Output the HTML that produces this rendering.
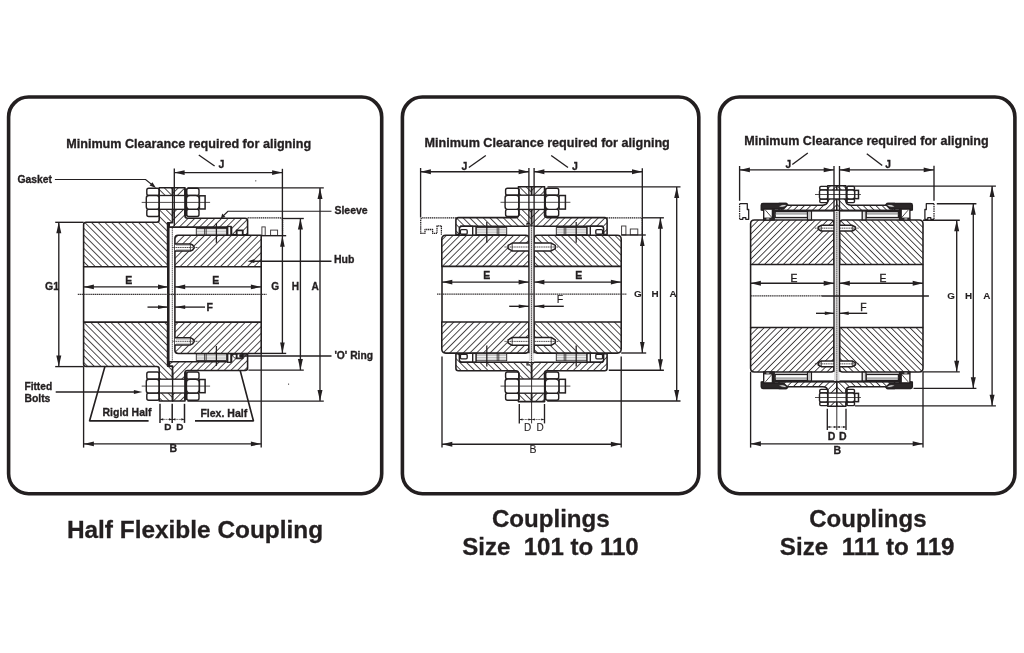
<!DOCTYPE html>
<html lang="en"><head><meta charset="utf-8"><title>Gear couplings - dimensions</title>
<style>html,body{margin:0;padding:0;background:#fff}body{width:1024px;height:653px;overflow:hidden}svg{display:block;will-change:transform}text{font-family:"Liberation Sans",Arial,Helvetica,sans-serif;fill:#231f20}</style>
</head><body>
<svg width="1024" height="653" viewBox="0 0 1024 653">
<rect x="0" y="0" width="1024" height="653" fill="#fff"/>
<defs>
<pattern id="hB" patternUnits="userSpaceOnUse" width="4.75" height="4.75" patternTransform="rotate(-45)"><line x1="2.38" y1="-1" x2="2.38" y2="5.75" stroke="#231f20" stroke-width="0.8"/></pattern>
<pattern id="hF" patternUnits="userSpaceOnUse" width="4.75" height="4.75" patternTransform="rotate(45)"><line x1="2.38" y1="-1" x2="2.38" y2="5.75" stroke="#231f20" stroke-width="0.8"/></pattern>
<pattern id="hB3" patternUnits="userSpaceOnUse" width="4.45" height="4.45" patternTransform="rotate(-45)"><line x1="2.23" y1="-1" x2="2.23" y2="5.45" stroke="#231f20" stroke-width="0.8"/></pattern>
<pattern id="hF3" patternUnits="userSpaceOnUse" width="4.45" height="4.45" patternTransform="rotate(45)"><line x1="2.23" y1="-1" x2="2.23" y2="5.45" stroke="#231f20" stroke-width="0.8"/></pattern>
<pattern id="hD" patternUnits="userSpaceOnUse" width="1.6" height="1.6" patternTransform="rotate(-45)"><line x1="0.8" y1="-1" x2="0.8" y2="2.6" stroke="#231f20" stroke-width="0.9"/></pattern>
</defs>
<rect x="8.6" y="97" width="373.1" height="396.7" rx="20" ry="20" fill="none" stroke="#231f20" stroke-width="3.6"/>
<rect x="402.4" y="97" width="296.4" height="396.7" rx="20" ry="20" fill="none" stroke="#231f20" stroke-width="3.6"/>
<rect x="719.4" y="97" width="295.5" height="396.7" rx="20" ry="20" fill="none" stroke="#231f20" stroke-width="3.6"/>
<text x="66.9" y="538.4" font-size="24.2" font-weight="bold" text-anchor="start" stroke="#231f20" stroke-width="0.3" textLength="256.2" lengthAdjust="spacingAndGlyphs">Half Flexible Coupling</text>
<text x="550.8" y="527.2" font-size="24.2" font-weight="bold" text-anchor="middle" stroke="#231f20" stroke-width="0.3" textLength="117.8" lengthAdjust="spacingAndGlyphs">Couplings</text>
<text x="550.5" y="555" font-size="24.2" font-weight="bold" text-anchor="middle" stroke="#231f20" stroke-width="0.3" textLength="176.5" lengthAdjust="spacingAndGlyphs">Size&#160; 101 to 110</text>
<text x="867.9" y="527.2" font-size="24.2" font-weight="bold" text-anchor="middle" stroke="#231f20" stroke-width="0.3" textLength="117.2" lengthAdjust="spacingAndGlyphs">Couplings</text>
<text x="867.2" y="555" font-size="24.2" font-weight="bold" text-anchor="middle" stroke="#231f20" stroke-width="0.3" textLength="174.7" lengthAdjust="spacingAndGlyphs">Size&#160; 111 to 119</text>
<text x="66.2" y="148.2" font-size="12.6" font-weight="bold" text-anchor="start" stroke="#231f20" stroke-width="0.32" textLength="245" lengthAdjust="spacingAndGlyphs">Minimum Clearance required for aligning</text>
<text x="424.5" y="147.4" font-size="12.6" font-weight="bold" text-anchor="start" stroke="#231f20" stroke-width="0.32" textLength="245.3" lengthAdjust="spacingAndGlyphs">Minimum Clearance required for aligning</text>
<text x="744.2" y="145" font-size="12.6" font-weight="bold" text-anchor="start" stroke="#231f20" stroke-width="0.32" textLength="244.5" lengthAdjust="spacingAndGlyphs">Minimum Clearance required for aligning</text>
<path d="M83.6 266.7 L83.6 224.8 Q83.6 222.3 86.1 222.3 L156.7 222.3 Q159.2 222.3 159.2 219.8 L159.2 187.8 L172.6 187.8 L172.6 222.7 L167.6 222.7 L167.6 266.7 Z" fill="#fff" stroke="none"/>
<path d="M83.6 266.7 L83.6 224.8 Q83.6 222.3 86.1 222.3 L156.7 222.3 Q159.2 222.3 159.2 219.8 L159.2 187.8 L172.6 187.8 L172.6 222.7 L167.6 222.7 L167.6 266.7 Z" fill="url(#hB)" stroke="#231f20" stroke-width="1.58" stroke-linejoin="round"/>
<path d="M172.6 187.8 L185 187.8 L185 215.8 Q185 218.3 187.5 218.3 L245.1 218.3 Q247.6 218.3 247.6 220.8 L247.6 234.8 L242.8 234.8 L242.8 230.3 L236.5 230.3 L236.5 234.8 L231.5 234.8 L231.5 227.1 L169.2 227.1 L169.2 222.7 L172.6 222.7 Z" fill="#fff" stroke="none"/>
<path d="M172.6 187.8 L185 187.8 L185 215.8 Q185 218.3 187.5 218.3 L245.1 218.3 Q247.6 218.3 247.6 220.8 L247.6 234.8 L242.8 234.8 L242.8 230.3 L236.5 230.3 L236.5 234.8 L231.5 234.8 L231.5 227.1 L169.2 227.1 L169.2 222.7 L172.6 222.7 Z" fill="url(#hF)" stroke="#231f20" stroke-width="1.58" stroke-linejoin="round"/>
<path d="M174.9 266.7 L174.9 238.5 Q174.9 235.3 178.1 235.3 L261.2 235.3 L261.2 266.7 Z" fill="#fff" stroke="none"/>
<path d="M174.9 266.7 L174.9 238.5 Q174.9 235.3 178.1 235.3 L261.2 235.3 L261.2 266.7 Z" fill="url(#hF)" stroke="#231f20" stroke-width="1.58" stroke-linejoin="round"/>
<path d="M83.6 322.1 L83.6 364 Q83.6 366.5 86.1 366.5 L156.7 366.5 Q159.2 366.5 159.2 369 L159.2 401 L172.6 401 L172.6 366.1 L167.6 366.1 L167.6 322.1 Z" fill="#fff" stroke="none"/>
<path d="M83.6 322.1 L83.6 364 Q83.6 366.5 86.1 366.5 L156.7 366.5 Q159.2 366.5 159.2 369 L159.2 401 L172.6 401 L172.6 366.1 L167.6 366.1 L167.6 322.1 Z" fill="url(#hB)" stroke="#231f20" stroke-width="1.58" stroke-linejoin="round"/>
<path d="M172.6 401 L185 401 L185 373 Q185 370.5 187.5 370.5 L245.1 370.5 Q247.6 370.5 247.6 368 L247.6 354 L242.8 354 L242.8 358.5 L236.5 358.5 L236.5 354 L231.5 354 L231.5 361.7 L169.2 361.7 L169.2 366.1 L172.6 366.1 Z" fill="#fff" stroke="none"/>
<path d="M172.6 401 L185 401 L185 373 Q185 370.5 187.5 370.5 L245.1 370.5 Q247.6 370.5 247.6 368 L247.6 354 L242.8 354 L242.8 358.5 L236.5 358.5 L236.5 354 L231.5 354 L231.5 361.7 L169.2 361.7 L169.2 366.1 L172.6 366.1 Z" fill="url(#hF)" stroke="#231f20" stroke-width="1.58" stroke-linejoin="round"/>
<path d="M174.9 322.1 L174.9 350.3 Q174.9 353.5 178.1 353.5 L261.2 353.5 L261.2 322.1 Z" fill="#fff" stroke="none"/>
<path d="M174.9 322.1 L174.9 350.3 Q174.9 353.5 178.1 353.5 L261.2 353.5 L261.2 322.1 Z" fill="url(#hF)" stroke="#231f20" stroke-width="1.58" stroke-linejoin="round"/>
<line x1="83.6" y1="266.7" x2="83.6" y2="322.1" stroke="#231f20" stroke-width="1.58"/>
<line x1="261.2" y1="266.7" x2="261.2" y2="322.1" stroke="#231f20" stroke-width="1.58"/>
<line x1="168.3" y1="222.7" x2="168.3" y2="366.1" stroke="#231f20" stroke-width="2.55"/>
<line x1="174.9" y1="266.7" x2="174.9" y2="322.1" stroke="#231f20" stroke-width="1.58"/>
<line x1="172.3" y1="226" x2="172.3" y2="363" stroke="#3a3637" stroke-width="0.8" stroke-dasharray="1.4 0.5"/>
<path d="M174.9 243.9 L190.4 243.9 L192.6 245 L194.4 247.5 L192.6 250 L190.4 251.1 L174.9 251.1" fill="#fff" stroke="#231f20" stroke-width="1.5" stroke-linejoin="round"/>
<line x1="190.4" y1="243.9" x2="190.4" y2="251.1" stroke="#231f20" stroke-width="0.8"/>
<line x1="176" y1="245.5" x2="190" y2="245.5" stroke="#666" stroke-width="0.4"/>
<line x1="176" y1="249.5" x2="190" y2="249.5" stroke="#666" stroke-width="0.4"/>
<line x1="172.4" y1="247.5" x2="198.4" y2="247.5" stroke="#3a3637" stroke-width="0.9" stroke-dasharray="1.3 0.5"/>
<rect x="196.3" y="228.4" width="30.3" height="6.4" rx="0" fill="#fff" stroke="#231f20" stroke-width="0.92"/>
<line x1="196.3" y1="230" x2="226.6" y2="230" stroke="#666" stroke-width="0.4"/>
<line x1="196.3" y1="231.6" x2="226.6" y2="231.6" stroke="#666" stroke-width="0.4"/>
<line x1="196.3" y1="233.2" x2="226.6" y2="233.2" stroke="#666" stroke-width="0.4"/>
<line x1="204.6" y1="228.4" x2="204.6" y2="234.8" stroke="#231f20" stroke-width="0.8"/>
<line x1="206.2" y1="228.4" x2="206.2" y2="234.8" stroke="#231f20" stroke-width="0.8"/>
<line x1="216.4" y1="223" x2="216.4" y2="242.8" stroke="#231f20" stroke-width="1.27"/>
<rect x="227.7" y="226.5" width="3.2" height="8.6" rx="0" fill="#fff" stroke="#231f20" stroke-width="1.35"/>
<rect x="236.9" y="230.6" width="5.6" height="4.3" rx="0.8" fill="#fff" stroke="#231f20" stroke-width="1.35"/>
<path d="M174.9 344.9 L190.4 344.9 L192.6 343.8 L194.4 341.3 L192.6 338.8 L190.4 337.7 L174.9 337.7" fill="#fff" stroke="#231f20" stroke-width="1.5" stroke-linejoin="round"/>
<line x1="190.4" y1="344.9" x2="190.4" y2="337.7" stroke="#231f20" stroke-width="0.8"/>
<line x1="176" y1="343.3" x2="190" y2="343.3" stroke="#666" stroke-width="0.4"/>
<line x1="176" y1="339.3" x2="190" y2="339.3" stroke="#666" stroke-width="0.4"/>
<line x1="172.4" y1="341.3" x2="198.4" y2="341.3" stroke="#3a3637" stroke-width="0.9" stroke-dasharray="1.3 0.5"/>
<rect x="196.3" y="354" width="30.3" height="6.4" rx="0" fill="#fff" stroke="#231f20" stroke-width="0.92"/>
<line x1="196.3" y1="358.8" x2="226.6" y2="358.8" stroke="#666" stroke-width="0.4"/>
<line x1="196.3" y1="357.2" x2="226.6" y2="357.2" stroke="#666" stroke-width="0.4"/>
<line x1="196.3" y1="355.6" x2="226.6" y2="355.6" stroke="#666" stroke-width="0.4"/>
<line x1="204.6" y1="360.4" x2="204.6" y2="354" stroke="#231f20" stroke-width="0.8"/>
<line x1="206.2" y1="360.4" x2="206.2" y2="354" stroke="#231f20" stroke-width="0.8"/>
<line x1="216.4" y1="365.8" x2="216.4" y2="346" stroke="#231f20" stroke-width="1.27"/>
<rect x="227.7" y="353.7" width="3.2" height="8.6" rx="0" fill="#fff" stroke="#231f20" stroke-width="1.35"/>
<rect x="236.9" y="353.9" width="5.6" height="4.3" rx="0.8" fill="#fff" stroke="#231f20" stroke-width="1.35"/>
<rect x="239.6" y="354.3" width="2.7" height="3.3" rx="1" fill="#231f20" stroke="#231f20" stroke-width="0.6"/>
<path d="M232.2 353.8 Q233.6 359.3 236.5 357.8" fill="none" stroke="#231f20" stroke-width="0.8"/>
<rect x="159.2" y="195.5" width="25.8" height="13.8" fill="#fff" stroke="none"/>
<line x1="159.2" y1="195.5" x2="185" y2="195.5" stroke="#231f20" stroke-width="1.35"/>
<line x1="159.2" y1="209.3" x2="185" y2="209.3" stroke="#231f20" stroke-width="1.35"/>
<rect x="147.3" y="188.8" width="11.9" height="27.2" fill="#fff"/>
<rect x="146.8" y="188.3" width="12.4" height="7.2" rx="1.9" fill="#fff" stroke="#231f20" stroke-width="1.42"/>
<rect x="146.8" y="209.3" width="12.4" height="7.2" rx="1.9" fill="#fff" stroke="#231f20" stroke-width="1.42"/>
<rect x="146.3" y="195.5" width="12.9" height="13.8" rx="2.6" fill="#fff" stroke="#231f20" stroke-width="1.42"/>
<line x1="159.2" y1="188.7" x2="159.2" y2="216.1" stroke="#231f20" stroke-width="1.5"/>
<rect x="187.3" y="188.8" width="11.1" height="27.2" fill="#fff"/>
<rect x="186.7" y="188.3" width="12.3" height="7.2" rx="1.9" fill="#fff" stroke="#231f20" stroke-width="1.42"/>
<rect x="186.7" y="209.3" width="12.3" height="7.2" rx="1.9" fill="#fff" stroke="#231f20" stroke-width="1.42"/>
<rect x="186.3" y="195.5" width="13.1" height="13.8" rx="3.8" fill="#fff" stroke="#231f20" stroke-width="1.42"/>
<rect x="199.4" y="195.8" width="5.7" height="13.2" rx="0" fill="#fff" stroke="#231f20" stroke-width="1.5"/>
<line x1="185.65" y1="188.6" x2="185.65" y2="216.2" stroke="#231f20" stroke-width="3"/>
<line x1="141.7" y1="202.4" x2="210.1" y2="202.4" stroke="#231f20" stroke-width="0.8"/>
<rect x="159.2" y="379.2" width="25.8" height="13.8" fill="#fff" stroke="none"/>
<line x1="159.2" y1="379.2" x2="185" y2="379.2" stroke="#231f20" stroke-width="1.35"/>
<line x1="159.2" y1="393" x2="185" y2="393" stroke="#231f20" stroke-width="1.35"/>
<rect x="147.3" y="372.5" width="11.9" height="27.2" fill="#fff"/>
<rect x="146.8" y="372" width="12.4" height="7.2" rx="1.9" fill="#fff" stroke="#231f20" stroke-width="1.42"/>
<rect x="146.8" y="393" width="12.4" height="7.2" rx="1.9" fill="#fff" stroke="#231f20" stroke-width="1.42"/>
<rect x="146.3" y="379.2" width="12.9" height="13.8" rx="2.6" fill="#fff" stroke="#231f20" stroke-width="1.42"/>
<line x1="159.2" y1="372.4" x2="159.2" y2="399.8" stroke="#231f20" stroke-width="1.5"/>
<rect x="187.3" y="372.5" width="11.1" height="27.2" fill="#fff"/>
<rect x="186.7" y="372" width="12.3" height="7.2" rx="1.9" fill="#fff" stroke="#231f20" stroke-width="1.42"/>
<rect x="186.7" y="393" width="12.3" height="7.2" rx="1.9" fill="#fff" stroke="#231f20" stroke-width="1.42"/>
<rect x="186.3" y="379.2" width="13.1" height="13.8" rx="3.8" fill="#fff" stroke="#231f20" stroke-width="1.42"/>
<rect x="199.4" y="379.5" width="5.7" height="13.2" rx="0" fill="#fff" stroke="#231f20" stroke-width="1.5"/>
<line x1="185.65" y1="372.3" x2="185.65" y2="399.9" stroke="#231f20" stroke-width="3"/>
<line x1="141.7" y1="386.1" x2="210.1" y2="386.1" stroke="#231f20" stroke-width="0.8"/>
<line x1="172.6" y1="188" x2="172.6" y2="216.8" stroke="#231f20" stroke-width="1.35"/>
<line x1="172.6" y1="371.7" x2="172.6" y2="400.5" stroke="#231f20" stroke-width="1.35"/>
<path d="M247.6 217.9 L280 217.9 Q282.6 217.9 282.6 220.5 L282.6 235.5" fill="none" stroke="#231f20" stroke-width="1.27" stroke-linejoin="round" stroke-dasharray="1.3 0.6"/>
<rect x="261.9" y="226.9" width="3.3" height="8.5" rx="0" fill="none" stroke="#3a3637" stroke-width="0.92"/>
<rect x="270.6" y="230.1" width="7" height="5.3" rx="0" fill="none" stroke="#3a3637" stroke-width="0.92"/>
<line x1="174.3" y1="168.6" x2="174.3" y2="226" stroke="#231f20" stroke-width="1.35"/>
<line x1="282.4" y1="168.8" x2="282.4" y2="353.4" stroke="#231f20" stroke-width="1.35"/>
<line x1="174.3" y1="172.6" x2="282.4" y2="172.6" stroke="#231f20" stroke-width="1.35"/>
<polygon points="174.3,172.6 184.6,170.15 184.6,175.05" fill="#231f20"/>
<polygon points="282.4,172.6 272.1,170.15 272.1,175.05" fill="#231f20"/>
<text x="221.3" y="167.6" font-size="10.5" font-weight="bold" text-anchor="middle" stroke="#231f20" stroke-width="0.32">J</text>
<line x1="198.8" y1="155" x2="214.6" y2="166" stroke="#231f20" stroke-width="1.35"/>
<line x1="187.5" y1="187.9" x2="323.8" y2="187.9" stroke="#231f20" stroke-width="1.35"/>
<line x1="187.5" y1="401.1" x2="323.8" y2="401.1" stroke="#231f20" stroke-width="1.35"/>
<line x1="282.6" y1="218.5" x2="303.8" y2="218.5" stroke="#231f20" stroke-width="1.35"/>
<line x1="248.4" y1="370.1" x2="303.8" y2="370.1" stroke="#231f20" stroke-width="1.35"/>
<line x1="261.2" y1="235.7" x2="286.2" y2="235.7" stroke="#231f20" stroke-width="1.35"/>
<line x1="261.2" y1="353.4" x2="286.2" y2="353.4" stroke="#231f20" stroke-width="1.35"/>
<line x1="320" y1="187.9" x2="320" y2="401" stroke="#231f20" stroke-width="1.35"/>
<polygon points="320,187.9 317.5,198.9 322.5,198.9" fill="#231f20"/>
<polygon points="320,401 317.5,390 322.5,390" fill="#231f20"/>
<line x1="300.4" y1="218.5" x2="300.4" y2="370.1" stroke="#231f20" stroke-width="1.35"/>
<polygon points="300.4,218.5 297.9,229.5 302.9,229.5" fill="#231f20"/>
<polygon points="300.4,370.1 297.9,359.1 302.9,359.1" fill="#231f20"/>
<polygon points="282.4,235.7 280.1,246.7 284.7,246.7" fill="#231f20"/>
<polygon points="282.4,353.4 280.1,342.4 284.7,342.4" fill="#231f20"/>
<text x="275.1" y="289.9" font-size="10.1" font-weight="bold" text-anchor="middle" stroke="#231f20" stroke-width="0.32">G</text>
<text x="295.5" y="289.9" font-size="10.1" font-weight="bold" text-anchor="middle" stroke="#231f20" stroke-width="0.32">H</text>
<text x="315.2" y="289.9" font-size="10.1" font-weight="bold" text-anchor="middle" stroke="#231f20" stroke-width="0.32">A</text>
<line x1="55.2" y1="222.3" x2="83.6" y2="222.3" stroke="#231f20" stroke-width="1.35"/>
<line x1="55.2" y1="366.6" x2="83.6" y2="366.6" stroke="#231f20" stroke-width="1.35"/>
<line x1="58.8" y1="222.3" x2="58.8" y2="366.6" stroke="#231f20" stroke-width="1.35"/>
<polygon points="58.8,222.3 56.3,233.3 61.3,233.3" fill="#231f20"/>
<polygon points="58.8,366.6 56.3,355.6 61.3,355.6" fill="#231f20"/>
<text x="52" y="290" font-size="10.5" font-weight="bold" text-anchor="middle" stroke="#231f20" stroke-width="0.32">G1</text>
<line x1="83.6" y1="286.9" x2="168.3" y2="286.9" stroke="#231f20" stroke-width="1.35"/>
<polygon points="83.6,286.9 93.9,284.45 93.9,289.35" fill="#231f20"/>
<polygon points="168.3,286.9 158,284.45 158,289.35" fill="#231f20"/>
<line x1="174.9" y1="286.9" x2="261.2" y2="286.9" stroke="#231f20" stroke-width="1.35"/>
<polygon points="174.9,286.9 185.2,284.45 185.2,289.35" fill="#231f20"/>
<polygon points="261.2,286.9 250.9,284.45 250.9,289.35" fill="#231f20"/>
<text x="128.7" y="283.7" font-size="10.5" font-weight="bold" text-anchor="middle" stroke="#231f20" stroke-width="0.32">E</text>
<text x="215.8" y="283.7" font-size="10.5" font-weight="bold" text-anchor="middle" stroke="#231f20" stroke-width="0.32">E</text>
<line x1="77.8" y1="294.4" x2="266.6" y2="294.4" stroke="#3a3637" stroke-width="1.2" stroke-dasharray="1.4 0.5"/>
<line x1="147.5" y1="307.1" x2="168.3" y2="307.1" stroke="#231f20" stroke-width="1.35"/>
<polygon points="168,307.1 158,305.2 158,309" fill="#231f20"/>
<line x1="174.9" y1="307.1" x2="205" y2="307.1" stroke="#231f20" stroke-width="1.35"/>
<polygon points="175.2,307.1 185.2,305.2 185.2,309" fill="#231f20"/>
<text x="206.6" y="310.6" font-size="10.5" font-weight="bold" text-anchor="start" stroke="#231f20" stroke-width="0.32">F</text>
<line x1="83.6" y1="366.6" x2="83.6" y2="447.6" stroke="#231f20" stroke-width="1.35"/>
<line x1="261.2" y1="353.4" x2="261.2" y2="447.6" stroke="#231f20" stroke-width="1.35"/>
<line x1="83.6" y1="443.9" x2="261.2" y2="443.9" stroke="#231f20" stroke-width="1.35"/>
<polygon points="83.6,443.9 93.9,441.45 93.9,446.35" fill="#231f20"/>
<polygon points="261.2,443.9 250.9,441.45 250.9,446.35" fill="#231f20"/>
<text x="173.2" y="452.2" font-size="10.5" font-weight="bold" text-anchor="middle" stroke="#231f20" stroke-width="0.32">B</text>
<line x1="160" y1="403.8" x2="160" y2="422.9" stroke="#231f20" stroke-width="1.5"/>
<line x1="172.2" y1="403.8" x2="172.2" y2="422.9" stroke="#231f20" stroke-width="1.5"/>
<line x1="184.5" y1="403.8" x2="184.5" y2="422.9" stroke="#231f20" stroke-width="1.5"/>
<line x1="160" y1="419.4" x2="184.5" y2="419.4" stroke="#231f20" stroke-width="0.6" stroke-dasharray="2.2 0.5"/>
<polygon points="160,419.4 163.2,418.3 163.2,420.5" fill="#231f20"/>
<polygon points="172.2,419.4 169,418.3 169,420.5" fill="#231f20"/>
<polygon points="172.2,419.4 175.4,418.3 175.4,420.5" fill="#231f20"/>
<polygon points="184.5,419.4 181.3,418.3 181.3,420.5" fill="#231f20"/>
<text x="167.9" y="430.4" font-size="9.9" font-weight="bold" text-anchor="middle" stroke="#231f20" stroke-width="0.32">D</text>
<text x="179.8" y="430.4" font-size="9.9" font-weight="bold" text-anchor="middle" stroke="#231f20" stroke-width="0.32">D</text>
<text x="17.4" y="183.4" font-size="10.4" font-weight="bold" text-anchor="start" stroke="#231f20" stroke-width="0.32" textLength="34.6" lengthAdjust="spacingAndGlyphs">Gasket</text>
<path d="M54.9,179.5 L145.6,179.5 L153.6,186.0" fill="none" stroke="#231f20" stroke-width="1.1"/>
<polygon points="156.0,188.0 149.6,185.6 152.4,182.2" fill="#231f20"/>
<text x="24.4" y="389.7" font-size="10.4" font-weight="bold" text-anchor="start" stroke="#231f20" stroke-width="0.32" textLength="27.8" lengthAdjust="spacingAndGlyphs">Fitted</text>
<text x="24.4" y="401.9" font-size="10.4" font-weight="bold" text-anchor="start" stroke="#231f20" stroke-width="0.32">Bolts</text>
<line x1="55.7" y1="392" x2="136" y2="392" stroke="#231f20" stroke-width="1.35"/>
<polygon points="142.4,392 133.9,390 133.9,394" fill="#231f20"/>
<text x="334.4" y="213.7" font-size="10.5" font-weight="bold" text-anchor="start" stroke="#231f20" stroke-width="0.32">Sleeve</text>
<path d="M331.5,211.3 L227.9,211.3 L222.6,216.5" fill="none" stroke="#231f20" stroke-width="1.1"/>
<polygon points="220.9,218.2 222.2,213.6 225.4,216.9" fill="#231f20"/>
<text x="334" y="262.7" font-size="10.5" font-weight="bold" text-anchor="start" stroke="#231f20" stroke-width="0.32">Hub</text>
<line x1="253" y1="261.2" x2="331.5" y2="261.2" stroke="#231f20" stroke-width="1.35"/>
<polygon points="247.4,261.2 254.4,259.3 254.4,263.1" fill="#231f20"/>
<text x="334.4" y="359.3" font-size="10.3" font-weight="bold" text-anchor="start" stroke="#231f20" stroke-width="0.32" textLength="38.6" lengthAdjust="spacingAndGlyphs">'O' Ring</text>
<line x1="243" y1="356" x2="331.5" y2="356" stroke="#231f20" stroke-width="1.35"/>
<text x="102.5" y="415.8" font-size="10.5" font-weight="bold" text-anchor="start" stroke="#231f20" stroke-width="0.32" textLength="48.9" lengthAdjust="spacingAndGlyphs">Rigid Half</text>
<path d="M104.9,366.6 L89.6,420.8 L148.6,420.8" fill="none" stroke="#231f20" stroke-width="1.65" stroke-linejoin="round"/>
<text x="200.4" y="416.7" font-size="10.5" font-weight="bold" text-anchor="start" stroke="#231f20" stroke-width="0.32" textLength="46.8" lengthAdjust="spacingAndGlyphs">Flex. Half</text>
<path d="M240.2,370.6 L253.4,420.8 L195,420.8" fill="none" stroke="#231f20" stroke-width="1.65" stroke-linejoin="round"/>
<circle cx="255.8" cy="180.8" r="0.6" fill="#231f20"/><circle cx="288.6" cy="384.1" r="0.6" fill="#231f20"/>
<path d="M534.2 266.4 L534.2 238.3 Q534.2 235.3 537.2 235.3 L617.2 235.3 Q621.2 235.3 621.2 239.3 L621.2 266.4 Z" fill="#fff" stroke="none"/>
<path d="M534.2 266.4 L534.2 238.3 Q534.2 235.3 537.2 235.3 L617.2 235.3 Q621.2 235.3 621.2 239.3 L621.2 266.4 Z" fill="url(#hB)" stroke="#231f20" stroke-width="1.58" stroke-linejoin="round"/>
<path d="M531.5 186.8 L544.6 186.8 L544.6 215.1 Q544.6 217.6 547.1 217.6 L604.6 217.6 Q607.1 217.6 607.1 220.1 L607.1 234.6 L603.6 234.6 L603.6 228.6 Q603.6 226.2 601.2 226.2 L531.5 226.2 Z" fill="#fff" stroke="none"/>
<path d="M531.5 186.8 L544.6 186.8 L544.6 215.1 Q544.6 217.6 547.1 217.6 L604.6 217.6 Q607.1 217.6 607.1 220.1 L607.1 234.6 L603.6 234.6 L603.6 228.6 Q603.6 226.2 601.2 226.2 L531.5 226.2 Z" fill="url(#hF)" stroke="#231f20" stroke-width="1.58" stroke-linejoin="round"/>
<path d="M528.8 266.4 L528.8 238.3 Q528.8 235.3 525.8 235.3 L445.8 235.3 Q441.8 235.3 441.8 239.3 L441.8 266.4 Z" fill="#fff" stroke="none"/>
<path d="M528.8 266.4 L528.8 238.3 Q528.8 235.3 525.8 235.3 L445.8 235.3 Q441.8 235.3 441.8 239.3 L441.8 266.4 Z" fill="url(#hF)" stroke="#231f20" stroke-width="1.58" stroke-linejoin="round"/>
<path d="M531.5 186.8 L518.4 186.8 L518.4 215.1 Q518.4 217.6 515.9 217.6 L458.4 217.6 Q455.9 217.6 455.9 220.1 L455.9 234.6 L459.4 234.6 L459.4 228.6 Q459.4 226.2 461.8 226.2 L531.5 226.2 Z" fill="#fff" stroke="none"/>
<path d="M531.5 186.8 L518.4 186.8 L518.4 215.1 Q518.4 217.6 515.9 217.6 L458.4 217.6 Q455.9 217.6 455.9 220.1 L455.9 234.6 L459.4 234.6 L459.4 228.6 Q459.4 226.2 461.8 226.2 L531.5 226.2 Z" fill="url(#hB)" stroke="#231f20" stroke-width="1.58" stroke-linejoin="round"/>
<path d="M534.2 322 L534.2 350.1 Q534.2 353.1 537.2 353.1 L617.2 353.1 Q621.2 353.1 621.2 349.1 L621.2 322 Z" fill="#fff" stroke="none"/>
<path d="M534.2 322 L534.2 350.1 Q534.2 353.1 537.2 353.1 L617.2 353.1 Q621.2 353.1 621.2 349.1 L621.2 322 Z" fill="url(#hB)" stroke="#231f20" stroke-width="1.58" stroke-linejoin="round"/>
<path d="M531.5 401.6 L544.6 401.6 L544.6 373.3 Q544.6 370.8 547.1 370.8 L604.6 370.8 Q607.1 370.8 607.1 368.3 L607.1 353.8 L603.6 353.8 L603.6 359.8 Q603.6 362.2 601.2 362.2 L531.5 362.2 Z" fill="#fff" stroke="none"/>
<path d="M531.5 401.6 L544.6 401.6 L544.6 373.3 Q544.6 370.8 547.1 370.8 L604.6 370.8 Q607.1 370.8 607.1 368.3 L607.1 353.8 L603.6 353.8 L603.6 359.8 Q603.6 362.2 601.2 362.2 L531.5 362.2 Z" fill="url(#hF)" stroke="#231f20" stroke-width="1.58" stroke-linejoin="round"/>
<path d="M528.8 322 L528.8 350.1 Q528.8 353.1 525.8 353.1 L445.8 353.1 Q441.8 353.1 441.8 349.1 L441.8 322 Z" fill="#fff" stroke="none"/>
<path d="M528.8 322 L528.8 350.1 Q528.8 353.1 525.8 353.1 L445.8 353.1 Q441.8 353.1 441.8 349.1 L441.8 322 Z" fill="url(#hF)" stroke="#231f20" stroke-width="1.58" stroke-linejoin="round"/>
<path d="M531.5 401.6 L518.4 401.6 L518.4 373.3 Q518.4 370.8 515.9 370.8 L458.4 370.8 Q455.9 370.8 455.9 368.3 L455.9 353.8 L459.4 353.8 L459.4 359.8 Q459.4 362.2 461.8 362.2 L531.5 362.2 Z" fill="#fff" stroke="none"/>
<path d="M531.5 401.6 L518.4 401.6 L518.4 373.3 Q518.4 370.8 515.9 370.8 L458.4 370.8 Q455.9 370.8 455.9 368.3 L455.9 353.8 L459.4 353.8 L459.4 359.8 Q459.4 362.2 461.8 362.2 L531.5 362.2 Z" fill="url(#hB)" stroke="#231f20" stroke-width="1.58" stroke-linejoin="round"/>
<line x1="442" y1="266.4" x2="442" y2="322" stroke="#231f20" stroke-width="1.58"/>
<line x1="621.2" y1="266.4" x2="621.2" y2="322" stroke="#231f20" stroke-width="1.58"/>
<rect x="556.3" y="227.6" width="30.7" height="7" rx="0" fill="#fff" stroke="#231f20" stroke-width="0.92"/>
<line x1="556.3" y1="229.3" x2="587" y2="229.3" stroke="#555" stroke-width="0.4"/>
<line x1="556.3" y1="231" x2="587" y2="231" stroke="#555" stroke-width="0.4"/>
<line x1="556.3" y1="232.8" x2="587" y2="232.8" stroke="#555" stroke-width="0.4"/>
<line x1="564.2" y1="227.6" x2="564.2" y2="234.6" stroke="#231f20" stroke-width="0.8"/>
<line x1="565.8" y1="227.6" x2="565.8" y2="234.6" stroke="#231f20" stroke-width="0.8"/>
<line x1="576.2" y1="222" x2="576.2" y2="242.8" stroke="#231f20" stroke-width="1.27"/>
<rect x="587" y="226.4" width="3.3" height="8.6" rx="0" fill="#fff" stroke="#231f20" stroke-width="1.35"/>
<rect x="595.8" y="229.6" width="6.8" height="4.6" rx="1.2" fill="#fff" stroke="#231f20" stroke-width="1.35"/>
<line x1="590.3" y1="226.2" x2="603" y2="226.2" stroke="#231f20" stroke-width="1.35"/>
<rect x="476" y="227.6" width="30.7" height="7" rx="0" fill="#fff" stroke="#231f20" stroke-width="0.92"/>
<line x1="506.7" y1="229.3" x2="476" y2="229.3" stroke="#555" stroke-width="0.4"/>
<line x1="506.7" y1="231" x2="476" y2="231" stroke="#555" stroke-width="0.4"/>
<line x1="506.7" y1="232.8" x2="476" y2="232.8" stroke="#555" stroke-width="0.4"/>
<line x1="498.8" y1="227.6" x2="498.8" y2="234.6" stroke="#231f20" stroke-width="0.8"/>
<line x1="497.2" y1="227.6" x2="497.2" y2="234.6" stroke="#231f20" stroke-width="0.8"/>
<line x1="486.8" y1="222" x2="486.8" y2="242.8" stroke="#231f20" stroke-width="1.27"/>
<rect x="472.7" y="226.4" width="3.3" height="8.6" rx="0" fill="#fff" stroke="#231f20" stroke-width="1.35"/>
<rect x="460.4" y="229.6" width="6.8" height="4.6" rx="1.2" fill="#fff" stroke="#231f20" stroke-width="1.35"/>
<line x1="472.7" y1="226.2" x2="460" y2="226.2" stroke="#231f20" stroke-width="1.35"/>
<path d="M508.1 245.44 L512.2 243.1 L551.2 243.1 L555.3 245.44 L555.3 248.56 L551.2 250.9 L512.2 250.9 L508.1 248.56 Z" fill="#fff" stroke="#231f20" stroke-width="1.5" stroke-linejoin="round"/>
<line x1="512.2" y1="243.1" x2="512.2" y2="250.9" stroke="#231f20" stroke-width="0.8"/>
<line x1="551.2" y1="243.1" x2="551.2" y2="250.9" stroke="#231f20" stroke-width="0.8"/>
<line x1="504.5" y1="247" x2="558.9" y2="247" stroke="#3a3637" stroke-width="0.9" stroke-dasharray="1.3 0.5"/>
<path d="M527 225.6 L527 223.4 L529.6 223.4" fill="none" stroke="#231f20" stroke-width="1.2"/>
<rect x="556.3" y="353.8" width="30.7" height="7" rx="0" fill="#fff" stroke="#231f20" stroke-width="0.92"/>
<line x1="556.3" y1="359.1" x2="587" y2="359.1" stroke="#555" stroke-width="0.4"/>
<line x1="556.3" y1="357.4" x2="587" y2="357.4" stroke="#555" stroke-width="0.4"/>
<line x1="556.3" y1="355.6" x2="587" y2="355.6" stroke="#555" stroke-width="0.4"/>
<line x1="564.2" y1="360.8" x2="564.2" y2="353.8" stroke="#231f20" stroke-width="0.8"/>
<line x1="565.8" y1="360.8" x2="565.8" y2="353.8" stroke="#231f20" stroke-width="0.8"/>
<line x1="576.2" y1="366.4" x2="576.2" y2="345.6" stroke="#231f20" stroke-width="1.27"/>
<rect x="587" y="353.4" width="3.3" height="8.6" rx="0" fill="#fff" stroke="#231f20" stroke-width="1.35"/>
<rect x="595.8" y="354.2" width="6.8" height="4.6" rx="1.2" fill="#fff" stroke="#231f20" stroke-width="1.35"/>
<line x1="590.3" y1="362.2" x2="603" y2="362.2" stroke="#231f20" stroke-width="1.35"/>
<rect x="476" y="353.8" width="30.7" height="7" rx="0" fill="#fff" stroke="#231f20" stroke-width="0.92"/>
<line x1="506.7" y1="359.1" x2="476" y2="359.1" stroke="#555" stroke-width="0.4"/>
<line x1="506.7" y1="357.4" x2="476" y2="357.4" stroke="#555" stroke-width="0.4"/>
<line x1="506.7" y1="355.6" x2="476" y2="355.6" stroke="#555" stroke-width="0.4"/>
<line x1="498.8" y1="360.8" x2="498.8" y2="353.8" stroke="#231f20" stroke-width="0.8"/>
<line x1="497.2" y1="360.8" x2="497.2" y2="353.8" stroke="#231f20" stroke-width="0.8"/>
<line x1="486.8" y1="366.4" x2="486.8" y2="345.6" stroke="#231f20" stroke-width="1.27"/>
<rect x="472.7" y="353.4" width="3.3" height="8.6" rx="0" fill="#fff" stroke="#231f20" stroke-width="1.35"/>
<rect x="460.4" y="354.2" width="6.8" height="4.6" rx="1.2" fill="#fff" stroke="#231f20" stroke-width="1.35"/>
<line x1="472.7" y1="362.2" x2="460" y2="362.2" stroke="#231f20" stroke-width="1.35"/>
<path d="M508.1 342.96 L512.2 345.3 L551.2 345.3 L555.3 342.96 L555.3 339.84 L551.2 337.5 L512.2 337.5 L508.1 339.84 Z" fill="#fff" stroke="#231f20" stroke-width="1.5" stroke-linejoin="round"/>
<line x1="512.2" y1="345.3" x2="512.2" y2="337.5" stroke="#231f20" stroke-width="0.8"/>
<line x1="551.2" y1="345.3" x2="551.2" y2="337.5" stroke="#231f20" stroke-width="0.8"/>
<line x1="504.5" y1="341.4" x2="558.9" y2="341.4" stroke="#3a3637" stroke-width="0.9" stroke-dasharray="1.3 0.5"/>
<path d="M527 362.8 L527 365 L529.6 365" fill="none" stroke="#231f20" stroke-width="1.2"/>
<rect x="518.9" y="195.2" width="25.7" height="14.2" fill="#fff" stroke="none"/>
<line x1="518.9" y1="195.2" x2="544.6" y2="195.2" stroke="#231f20" stroke-width="1.35"/>
<line x1="518.9" y1="209.4" x2="544.6" y2="209.4" stroke="#231f20" stroke-width="1.35"/>
<rect x="506.1" y="188.7" width="12.8" height="27.2" fill="#fff"/>
<rect x="505.6" y="188.2" width="13.3" height="7" rx="1.9" fill="#fff" stroke="#231f20" stroke-width="1.42"/>
<rect x="505.6" y="209.4" width="13.3" height="7" rx="1.9" fill="#fff" stroke="#231f20" stroke-width="1.42"/>
<rect x="505.1" y="195.2" width="13.8" height="14.2" rx="2.6" fill="#fff" stroke="#231f20" stroke-width="1.42"/>
<line x1="518.9" y1="188.6" x2="518.9" y2="216" stroke="#231f20" stroke-width="1.5"/>
<rect x="546.3" y="188.7" width="11.8" height="27.2" fill="#fff"/>
<rect x="545.7" y="188.2" width="13" height="7" rx="1.9" fill="#fff" stroke="#231f20" stroke-width="1.42"/>
<rect x="545.7" y="209.4" width="13" height="7" rx="1.9" fill="#fff" stroke="#231f20" stroke-width="1.42"/>
<rect x="545.3" y="195.2" width="13.8" height="14.2" rx="3.8" fill="#fff" stroke="#231f20" stroke-width="1.42"/>
<rect x="559.1" y="195.5" width="6.3" height="13.6" rx="0" fill="#fff" stroke="#231f20" stroke-width="1.5"/>
<line x1="544.95" y1="188.5" x2="544.95" y2="216.1" stroke="#231f20" stroke-width="2.1"/>
<line x1="500.5" y1="202.3" x2="570.4" y2="202.3" stroke="#231f20" stroke-width="0.8"/>
<rect x="518.9" y="379" width="25.7" height="14.2" fill="#fff" stroke="none"/>
<line x1="518.9" y1="379" x2="544.6" y2="379" stroke="#231f20" stroke-width="1.35"/>
<line x1="518.9" y1="393.2" x2="544.6" y2="393.2" stroke="#231f20" stroke-width="1.35"/>
<rect x="506.1" y="372.5" width="12.8" height="27.2" fill="#fff"/>
<rect x="505.6" y="372" width="13.3" height="7" rx="1.9" fill="#fff" stroke="#231f20" stroke-width="1.42"/>
<rect x="505.6" y="393.2" width="13.3" height="7" rx="1.9" fill="#fff" stroke="#231f20" stroke-width="1.42"/>
<rect x="505.1" y="379" width="13.8" height="14.2" rx="2.6" fill="#fff" stroke="#231f20" stroke-width="1.42"/>
<line x1="518.9" y1="372.4" x2="518.9" y2="399.8" stroke="#231f20" stroke-width="1.5"/>
<rect x="546.3" y="372.5" width="11.8" height="27.2" fill="#fff"/>
<rect x="545.7" y="372" width="13" height="7" rx="1.9" fill="#fff" stroke="#231f20" stroke-width="1.42"/>
<rect x="545.7" y="393.2" width="13" height="7" rx="1.9" fill="#fff" stroke="#231f20" stroke-width="1.42"/>
<rect x="545.3" y="379" width="13.8" height="14.2" rx="3.8" fill="#fff" stroke="#231f20" stroke-width="1.42"/>
<rect x="559.1" y="379.3" width="6.3" height="13.6" rx="0" fill="#fff" stroke="#231f20" stroke-width="1.5"/>
<line x1="544.95" y1="372.3" x2="544.95" y2="399.9" stroke="#231f20" stroke-width="2.1"/>
<line x1="500.5" y1="386.1" x2="570.4" y2="386.1" stroke="#231f20" stroke-width="0.8"/>
<rect x="528.9" y="226.4" width="5.2" height="135.6" fill="#e4e3e3"/>
<line x1="528.9" y1="168" x2="528.9" y2="353.2" stroke="#231f20" stroke-width="1.35"/>
<line x1="534.1" y1="168" x2="534.1" y2="353.2" stroke="#231f20" stroke-width="1.35"/>
<line x1="531.5" y1="222" x2="531.5" y2="366.5" stroke="#3a3637" stroke-width="0.8" stroke-dasharray="1.4 0.5"/>
<line x1="531.6" y1="366.5" x2="531.6" y2="423.4" stroke="#231f20" stroke-width="0.92"/>
<path d="M455.9 217.8 L423.2 217.8 Q420.7 217.8 420.7 220.3 L420.7 233.3 L425 233.3 L425 229.5 L432.6 229.5 L432.6 233.3 L437 233.3 L437 225.8 L441.4 225.8 L441.4 235" fill="none" stroke="#231f20" stroke-width="1.27" stroke-linejoin="round" stroke-dasharray="1.3 0.6"/>
<path d="M607.1 217.8 L639.8 217.8 Q642.3 217.8 642.3 220.3 L642.3 234.8" fill="none" stroke="#231f20" stroke-width="1.27" stroke-linejoin="round" stroke-dasharray="1.3 0.6"/>
<rect x="621.6" y="226" width="4.3" height="8.9" rx="0" fill="none" stroke="#3a3637" stroke-width="0.92"/>
<rect x="630.3" y="229" width="7.5" height="5.9" rx="0" fill="none" stroke="#3a3637" stroke-width="0.92"/>
<line x1="420.6" y1="168" x2="420.6" y2="217.5" stroke="#231f20" stroke-width="1.35"/>
<line x1="642.3" y1="168.2" x2="642.3" y2="353" stroke="#231f20" stroke-width="1.35"/>
<line x1="420.6" y1="171.7" x2="528.9" y2="171.7" stroke="#231f20" stroke-width="1.35"/>
<polygon points="420.6,171.7 430.9,169.25 430.9,174.15" fill="#231f20"/>
<polygon points="528.9,171.7 518.6,169.25 518.6,174.15" fill="#231f20"/>
<line x1="534.1" y1="171.7" x2="642.3" y2="171.7" stroke="#231f20" stroke-width="1.35"/>
<polygon points="534.1,171.7 544.4,169.25 544.4,174.15" fill="#231f20"/>
<polygon points="642.3,171.7 632,169.25 632,174.15" fill="#231f20"/>
<text x="464.5" y="169.6" font-size="10.5" font-weight="bold" text-anchor="middle" stroke="#231f20" stroke-width="0.32">J</text>
<text x="575" y="169.6" font-size="10.5" font-weight="bold" text-anchor="middle" stroke="#231f20" stroke-width="0.32">J</text>
<line x1="468.8" y1="167.5" x2="485.8" y2="155.5" stroke="#231f20" stroke-width="1.35"/>
<line x1="551.2" y1="155.5" x2="568" y2="167.5" stroke="#231f20" stroke-width="1.35"/>
<line x1="547.5" y1="186.9" x2="680.5" y2="186.9" stroke="#231f20" stroke-width="1.35"/>
<line x1="547.2" y1="401" x2="680.5" y2="401" stroke="#231f20" stroke-width="1.35"/>
<line x1="642.3" y1="217.8" x2="663.9" y2="217.8" stroke="#231f20" stroke-width="1.35"/>
<line x1="608.8" y1="370.2" x2="663.9" y2="370.2" stroke="#231f20" stroke-width="1.35"/>
<line x1="621.2" y1="235" x2="645.8" y2="235" stroke="#231f20" stroke-width="1.35"/>
<line x1="621.2" y1="353" x2="646.2" y2="353" stroke="#231f20" stroke-width="1.35"/>
<line x1="676.7" y1="186.9" x2="676.7" y2="401" stroke="#231f20" stroke-width="1.35"/>
<polygon points="676.7,186.9 674.2,197.9 679.2,197.9" fill="#231f20"/>
<polygon points="676.7,401 674.2,390 679.2,390" fill="#231f20"/>
<line x1="660.4" y1="217.8" x2="660.4" y2="370.2" stroke="#231f20" stroke-width="1.35"/>
<polygon points="660.4,217.8 657.9,228.8 662.9,228.8" fill="#231f20"/>
<polygon points="660.4,370.2 657.9,359.2 662.9,359.2" fill="#231f20"/>
<polygon points="642.3,235 640,246 644.6,246" fill="#231f20"/>
<polygon points="642.3,353 640,342 644.6,342" fill="#231f20"/>
<text x="637.8" y="296.6" font-size="9.9" font-weight="bold" text-anchor="middle" stroke="#231f20" stroke-width="0.1">G</text>
<text x="655" y="296.8" font-size="9.9" font-weight="bold" text-anchor="middle" stroke="#231f20" stroke-width="0.1">H</text>
<text x="673" y="296.8" font-size="9.9" font-weight="bold" text-anchor="middle" stroke="#231f20" stroke-width="0.1">A</text>
<line x1="442" y1="282.1" x2="528.9" y2="282.1" stroke="#231f20" stroke-width="1.35"/>
<polygon points="442,282.1 452.3,279.65 452.3,284.55" fill="#231f20"/>
<polygon points="528.9,282.1 518.6,279.65 518.6,284.55" fill="#231f20"/>
<line x1="534.1" y1="282.1" x2="621.2" y2="282.1" stroke="#231f20" stroke-width="1.35"/>
<polygon points="534.1,282.1 544.4,279.65 544.4,284.55" fill="#231f20"/>
<polygon points="621.2,282.1 610.9,279.65 610.9,284.55" fill="#231f20"/>
<text x="486.8" y="279.4" font-size="10.5" font-weight="bold" text-anchor="middle" stroke="#231f20" stroke-width="0.32">E</text>
<text x="578.8" y="279.4" font-size="10.5" font-weight="bold" text-anchor="middle" stroke="#231f20" stroke-width="0.32">E</text>
<line x1="437" y1="294.1" x2="626.4" y2="294.1" stroke="#3a3637" stroke-width="1.2" stroke-dasharray="1.4 0.5"/>
<line x1="509.2" y1="306.3" x2="528.9" y2="306.3" stroke="#231f20" stroke-width="1.35"/>
<polygon points="528.7,306.3 518.7,304.4 518.7,308.2" fill="#231f20"/>
<line x1="534.1" y1="306.3" x2="563.8" y2="306.3" stroke="#231f20" stroke-width="1.35"/>
<polygon points="534.3,306.3 544.3,304.4 544.3,308.2" fill="#231f20"/>
<text x="560" y="303" font-size="10.5" font-weight="normal" text-anchor="middle" stroke="#231f20" stroke-width="0.12">F</text>
<line x1="519.3" y1="404" x2="519.3" y2="423.4" stroke="#231f20" stroke-width="1.35"/>
<line x1="544.5" y1="404" x2="544.5" y2="423.4" stroke="#231f20" stroke-width="1.35"/>
<line x1="519.3" y1="419.5" x2="544.5" y2="419.5" stroke="#231f20" stroke-width="0.6" stroke-dasharray="2.2 0.5"/>
<polygon points="519.3,419.5 522.5,418.4 522.5,420.6" fill="#231f20"/>
<polygon points="531.6,419.5 528.4,418.4 528.4,420.6" fill="#231f20"/>
<polygon points="531.6,419.5 534.8,418.4 534.8,420.6" fill="#231f20"/>
<polygon points="544.5,419.5 541.3,418.4 541.3,420.6" fill="#231f20"/>
<text x="527.5" y="430.6" font-size="10" font-weight="normal" text-anchor="middle" stroke="#231f20" stroke-width="0.12">D</text>
<text x="540" y="430.6" font-size="10" font-weight="normal" text-anchor="middle" stroke="#231f20" stroke-width="0.12">D</text>
<line x1="442" y1="356.4" x2="442" y2="447.6" stroke="#231f20" stroke-width="1.35"/>
<line x1="621.2" y1="356.4" x2="621.2" y2="447.6" stroke="#231f20" stroke-width="1.35"/>
<line x1="442" y1="444.2" x2="621.2" y2="444.2" stroke="#231f20" stroke-width="1.35"/>
<polygon points="442,444.2 452.3,441.75 452.3,446.65" fill="#231f20"/>
<polygon points="621.2,444.2 610.9,441.75 610.9,446.65" fill="#231f20"/>
<text x="533" y="452.6" font-size="10.5" font-weight="normal" text-anchor="middle" stroke="#231f20" stroke-width="0.12">B</text>
<path d="M834 264.5 L834 223 Q834 220 831 220 L754.4 220 Q750.6 220 750.6 223.8 L750.6 264.5 Z" fill="#fff" stroke="none"/>
<path d="M834 264.5 L834 223 Q834 220 831 220 L754.4 220 Q750.6 220 750.6 223.8 L750.6 264.5 Z" fill="url(#hF3)" stroke="#231f20" stroke-width="1.58" stroke-linejoin="round"/>
<path d="M836.8 185.7 L827.7 185.7 L827.7 200.6 Q827.7 205.2 822.6 205.2 L788.2 205.2 L786.3 203.4 L779 203.4 L779 210.6 L836.8 210.6 Z" fill="#fff" stroke="none"/>
<path d="M836.8 185.7 L827.7 185.7 L827.7 200.6 Q827.7 205.2 822.6 205.2 L788.2 205.2 L786.3 203.4 L779 203.4 L779 210.6 L836.8 210.6 Z" fill="url(#hF3)" stroke="#231f20" stroke-width="1.5" stroke-linejoin="round"/>
<path d="M839.6 264.5 L839.6 223 Q839.6 220 842.6 220 L919.2 220 Q923 220 923 223.8 L923 264.5 Z" fill="#fff" stroke="none"/>
<path d="M839.6 264.5 L839.6 223 Q839.6 220 842.6 220 L919.2 220 Q923 220 923 223.8 L923 264.5 Z" fill="url(#hB3)" stroke="#231f20" stroke-width="1.58" stroke-linejoin="round"/>
<path d="M836.8 185.7 L845.9 185.7 L845.9 200.6 Q845.9 205.2 851 205.2 L885.4 205.2 L887.3 203.4 L894.6 203.4 L894.6 210.6 L836.8 210.6 Z" fill="#fff" stroke="none"/>
<path d="M836.8 185.7 L845.9 185.7 L845.9 200.6 Q845.9 205.2 851 205.2 L885.4 205.2 L887.3 203.4 L894.6 203.4 L894.6 210.6 L836.8 210.6 Z" fill="url(#hB3)" stroke="#231f20" stroke-width="1.5" stroke-linejoin="round"/>
<path d="M834 327.5 L834 369 Q834 372 831 372 L754.4 372 Q750.6 372 750.6 368.2 L750.6 327.5 Z" fill="#fff" stroke="none"/>
<path d="M834 327.5 L834 369 Q834 372 831 372 L754.4 372 Q750.6 372 750.6 368.2 L750.6 327.5 Z" fill="url(#hF3)" stroke="#231f20" stroke-width="1.58" stroke-linejoin="round"/>
<path d="M836.8 406.3 L827.7 406.3 L827.7 391.4 Q827.7 386.8 822.6 386.8 L788.2 386.8 L786.3 388.6 L779 388.6 L779 381.4 L836.8 381.4 Z" fill="#fff" stroke="none"/>
<path d="M836.8 406.3 L827.7 406.3 L827.7 391.4 Q827.7 386.8 822.6 386.8 L788.2 386.8 L786.3 388.6 L779 388.6 L779 381.4 L836.8 381.4 Z" fill="url(#hF3)" stroke="#231f20" stroke-width="1.5" stroke-linejoin="round"/>
<path d="M839.6 327.5 L839.6 369 Q839.6 372 842.6 372 L919.2 372 Q923 372 923 368.2 L923 327.5 Z" fill="#fff" stroke="none"/>
<path d="M839.6 327.5 L839.6 369 Q839.6 372 842.6 372 L919.2 372 Q923 372 923 368.2 L923 327.5 Z" fill="url(#hB3)" stroke="#231f20" stroke-width="1.58" stroke-linejoin="round"/>
<path d="M836.8 406.3 L845.9 406.3 L845.9 391.4 Q845.9 386.8 851 386.8 L885.4 386.8 L887.3 388.6 L894.6 388.6 L894.6 381.4 L836.8 381.4 Z" fill="#fff" stroke="none"/>
<path d="M836.8 406.3 L845.9 406.3 L845.9 391.4 Q845.9 386.8 851 386.8 L885.4 386.8 L887.3 388.6 L894.6 388.6 L894.6 381.4 L836.8 381.4 Z" fill="url(#hB3)" stroke="#231f20" stroke-width="1.5" stroke-linejoin="round"/>
<line x1="750.6" y1="264.5" x2="750.6" y2="327.5" stroke="#231f20" stroke-width="1.58"/>
<line x1="923" y1="264.5" x2="923" y2="327.5" stroke="#231f20" stroke-width="1.58"/>
<path d="M761.3 210 L761.3 205.2 Q761.3 203.6 762.9 203.6 L785.9 203.6 L787.4 204.9 L783.4 209 L763.7 209 L763.7 210.2 Z" fill="#2b2728" stroke="#231f20" stroke-width="1.5" stroke-linejoin="round"/>
<path d="M779.4 206.4 Q782 204.6 786.2 205 Q784.4 207.6 779.4 206.4 Z" fill="#efefef" stroke="#999" stroke-width="0.3" stroke-linejoin="round"/>
<rect x="763.7" y="209.1" width="10.4" height="10.8" rx="0" fill="#fff" stroke="#231f20" stroke-width="1.35"/>
<line x1="773" y1="209.1" x2="773" y2="219.9" stroke="#231f20" stroke-width="2.55"/>
<rect x="763.7" y="217.9" width="10.4" height="2" rx="0" fill="#2b2728" stroke="#231f20" stroke-width="0.5"/>
<rect x="766.4" y="218.2" width="2.8" height="1.3" rx="0" fill="#cfcfcf" stroke="#555" stroke-width="0.3"/>
<line x1="765.4" y1="210.1" x2="772.3" y2="218" stroke="#231f20" stroke-width="0.8"/>
<rect x="775.1" y="211.6" width="32.5" height="6" rx="0" fill="#fff" stroke="#231f20" stroke-width="1.42"/>
<line x1="775.1" y1="213.6" x2="807.6" y2="213.6" stroke="#444" stroke-width="0.5"/>
<line x1="775.1" y1="214.5" x2="807.6" y2="214.5" stroke="#777" stroke-width="0.4"/>
<rect x="807.6" y="210.8" width="3.8" height="9.1" rx="0" fill="#fff" stroke="#231f20" stroke-width="1.35"/>
<line x1="809.5" y1="212" x2="809.5" y2="219" stroke="#666" stroke-width="0.4"/>
<line x1="774.2" y1="210.6" x2="836.8" y2="210.6" stroke="#231f20" stroke-width="1.95"/>
<path d="M912.3 210 L912.3 205.2 Q912.3 203.6 910.7 203.6 L887.7 203.6 L886.2 204.9 L890.2 209 L909.9 209 L909.9 210.2 Z" fill="#2b2728" stroke="#231f20" stroke-width="1.5" stroke-linejoin="round"/>
<path d="M894.2 206.4 Q891.6 204.6 887.4 205 Q889.2 207.6 894.2 206.4 Z" fill="#efefef" stroke="#999" stroke-width="0.3" stroke-linejoin="round"/>
<rect x="899.5" y="209.1" width="10.4" height="10.8" rx="0" fill="#fff" stroke="#231f20" stroke-width="1.35"/>
<line x1="900.6" y1="209.1" x2="900.6" y2="219.9" stroke="#231f20" stroke-width="2.55"/>
<rect x="899.5" y="217.9" width="10.4" height="2" rx="0" fill="#2b2728" stroke="#231f20" stroke-width="0.5"/>
<rect x="904.4" y="218.2" width="2.8" height="1.3" rx="0" fill="#cfcfcf" stroke="#555" stroke-width="0.3"/>
<line x1="908.2" y1="210.1" x2="901.3" y2="218" stroke="#231f20" stroke-width="0.8"/>
<rect x="866" y="211.6" width="32.5" height="6" rx="0" fill="#fff" stroke="#231f20" stroke-width="1.42"/>
<line x1="898.5" y1="213.6" x2="866" y2="213.6" stroke="#444" stroke-width="0.5"/>
<line x1="898.5" y1="214.5" x2="866" y2="214.5" stroke="#777" stroke-width="0.4"/>
<rect x="862.2" y="210.8" width="3.8" height="9.1" rx="0" fill="#fff" stroke="#231f20" stroke-width="1.35"/>
<line x1="864.1" y1="212" x2="864.1" y2="219" stroke="#666" stroke-width="0.4"/>
<line x1="899.4" y1="210.6" x2="836.8" y2="210.6" stroke="#231f20" stroke-width="1.95"/>
<path d="M818.3 227.01 L821.3 225.3 L852.3 225.3 L855.3 227.01 L855.3 229.29 L852.3 231 L821.3 231 L818.3 229.29 Z" fill="#fff" stroke="#231f20" stroke-width="1.5" stroke-linejoin="round"/>
<line x1="821.3" y1="225.3" x2="821.3" y2="231" stroke="#231f20" stroke-width="0.8"/>
<line x1="852.3" y1="225.3" x2="852.3" y2="231" stroke="#231f20" stroke-width="0.8"/>
<line x1="814.9" y1="228.15" x2="858.7" y2="228.15" stroke="#3a3637" stroke-width="0.9" stroke-dasharray="1.3 0.5"/>
<path d="M761.3 382 L761.3 386.8 Q761.3 388.4 762.9 388.4 L785.9 388.4 L787.4 387.1 L783.4 383 L763.7 383 L763.7 381.8 Z" fill="#2b2728" stroke="#231f20" stroke-width="1.5" stroke-linejoin="round"/>
<path d="M779.4 385.6 Q782 387.4 786.2 387 Q784.4 384.4 779.4 385.6 Z" fill="#efefef" stroke="#999" stroke-width="0.3" stroke-linejoin="round"/>
<rect x="763.7" y="372.1" width="10.4" height="10.8" rx="0" fill="#fff" stroke="#231f20" stroke-width="1.35"/>
<line x1="773" y1="382.9" x2="773" y2="372.1" stroke="#231f20" stroke-width="2.55"/>
<rect x="763.7" y="372.1" width="10.4" height="2" rx="0" fill="#2b2728" stroke="#231f20" stroke-width="0.5"/>
<rect x="766.4" y="372.5" width="2.8" height="1.3" rx="0" fill="#cfcfcf" stroke="#555" stroke-width="0.3"/>
<line x1="765.4" y1="381.9" x2="772.3" y2="374" stroke="#231f20" stroke-width="0.8"/>
<rect x="775.1" y="374.4" width="32.5" height="6" rx="0" fill="#fff" stroke="#231f20" stroke-width="1.42"/>
<line x1="775.1" y1="378.4" x2="807.6" y2="378.4" stroke="#444" stroke-width="0.5"/>
<line x1="775.1" y1="377.5" x2="807.6" y2="377.5" stroke="#777" stroke-width="0.4"/>
<rect x="807.6" y="372.1" width="3.8" height="9.1" rx="0" fill="#fff" stroke="#231f20" stroke-width="1.35"/>
<line x1="809.5" y1="380" x2="809.5" y2="373" stroke="#666" stroke-width="0.4"/>
<line x1="774.2" y1="381.4" x2="836.8" y2="381.4" stroke="#231f20" stroke-width="1.95"/>
<path d="M912.3 382 L912.3 386.8 Q912.3 388.4 910.7 388.4 L887.7 388.4 L886.2 387.1 L890.2 383 L909.9 383 L909.9 381.8 Z" fill="#2b2728" stroke="#231f20" stroke-width="1.5" stroke-linejoin="round"/>
<path d="M894.2 385.6 Q891.6 387.4 887.4 387 Q889.2 384.4 894.2 385.6 Z" fill="#efefef" stroke="#999" stroke-width="0.3" stroke-linejoin="round"/>
<rect x="899.5" y="372.1" width="10.4" height="10.8" rx="0" fill="#fff" stroke="#231f20" stroke-width="1.35"/>
<line x1="900.6" y1="382.9" x2="900.6" y2="372.1" stroke="#231f20" stroke-width="2.55"/>
<rect x="899.5" y="372.1" width="10.4" height="2" rx="0" fill="#2b2728" stroke="#231f20" stroke-width="0.5"/>
<rect x="904.4" y="372.5" width="2.8" height="1.3" rx="0" fill="#cfcfcf" stroke="#555" stroke-width="0.3"/>
<line x1="908.2" y1="381.9" x2="901.3" y2="374" stroke="#231f20" stroke-width="0.8"/>
<rect x="866" y="374.4" width="32.5" height="6" rx="0" fill="#fff" stroke="#231f20" stroke-width="1.42"/>
<line x1="898.5" y1="378.4" x2="866" y2="378.4" stroke="#444" stroke-width="0.5"/>
<line x1="898.5" y1="377.5" x2="866" y2="377.5" stroke="#777" stroke-width="0.4"/>
<rect x="862.2" y="372.1" width="3.8" height="9.1" rx="0" fill="#fff" stroke="#231f20" stroke-width="1.35"/>
<line x1="864.1" y1="380" x2="864.1" y2="373" stroke="#666" stroke-width="0.4"/>
<line x1="899.4" y1="381.4" x2="836.8" y2="381.4" stroke="#231f20" stroke-width="1.95"/>
<path d="M818.3 364.99 L821.3 366.7 L852.3 366.7 L855.3 364.99 L855.3 362.71 L852.3 361 L821.3 361 L818.3 362.71 Z" fill="#fff" stroke="#231f20" stroke-width="1.5" stroke-linejoin="round"/>
<line x1="821.3" y1="366.7" x2="821.3" y2="361" stroke="#231f20" stroke-width="0.8"/>
<line x1="852.3" y1="366.7" x2="852.3" y2="361" stroke="#231f20" stroke-width="0.8"/>
<line x1="814.9" y1="363.85" x2="858.7" y2="363.85" stroke="#3a3637" stroke-width="0.9" stroke-dasharray="1.3 0.5"/>
<rect x="827.7" y="190.05" width="18.8" height="8.9" fill="#fff" stroke="none"/>
<line x1="827.7" y1="190.05" x2="846.5" y2="190.05" stroke="#231f20" stroke-width="1.35"/>
<line x1="827.7" y1="198.95" x2="846.5" y2="198.95" stroke="#231f20" stroke-width="1.35"/>
<rect x="820.5" y="186.85" width="7.2" height="15.3" fill="#fff"/>
<rect x="819.79" y="186.35" width="7.91" height="3.7" rx="1.1" fill="#fff" stroke="#231f20" stroke-width="1.42"/>
<rect x="819.79" y="198.95" width="7.91" height="3.7" rx="1.1" fill="#fff" stroke="#231f20" stroke-width="1.42"/>
<rect x="819.5" y="190.05" width="8.2" height="8.9" rx="1.5" fill="#fff" stroke="#231f20" stroke-width="1.42"/>
<line x1="827.7" y1="186.75" x2="827.7" y2="202.25" stroke="#231f20" stroke-width="1.5"/>
<rect x="847.6" y="186.85" width="6.1" height="15.3" fill="#fff"/>
<rect x="846.83" y="186.35" width="7.64" height="3.7" rx="1.1" fill="#fff" stroke="#231f20" stroke-width="1.42"/>
<rect x="846.83" y="198.95" width="7.64" height="3.7" rx="1.1" fill="#fff" stroke="#231f20" stroke-width="1.42"/>
<rect x="846.6" y="190.05" width="8.1" height="8.9" rx="2.2" fill="#fff" stroke="#231f20" stroke-width="1.42"/>
<rect x="854.7" y="190.35" width="3.8" height="8.3" rx="0" fill="#fff" stroke="#231f20" stroke-width="1.5"/>
<line x1="846.55" y1="186.65" x2="846.55" y2="202.35" stroke="#231f20" stroke-width="1.95"/>
<line x1="815" y1="194.5" x2="860.9" y2="194.5" stroke="#231f20" stroke-width="0.8"/>
<rect x="827.7" y="393.05" width="18.8" height="8.9" fill="#fff" stroke="none"/>
<line x1="827.7" y1="393.05" x2="846.5" y2="393.05" stroke="#231f20" stroke-width="1.35"/>
<line x1="827.7" y1="401.95" x2="846.5" y2="401.95" stroke="#231f20" stroke-width="1.35"/>
<rect x="820.5" y="389.85" width="7.2" height="15.3" fill="#fff"/>
<rect x="819.79" y="389.35" width="7.91" height="3.7" rx="1.1" fill="#fff" stroke="#231f20" stroke-width="1.42"/>
<rect x="819.79" y="401.95" width="7.91" height="3.7" rx="1.1" fill="#fff" stroke="#231f20" stroke-width="1.42"/>
<rect x="819.5" y="393.05" width="8.2" height="8.9" rx="1.5" fill="#fff" stroke="#231f20" stroke-width="1.42"/>
<line x1="827.7" y1="389.75" x2="827.7" y2="405.25" stroke="#231f20" stroke-width="1.5"/>
<rect x="847.6" y="389.85" width="6.1" height="15.3" fill="#fff"/>
<rect x="846.83" y="389.35" width="7.64" height="3.7" rx="1.1" fill="#fff" stroke="#231f20" stroke-width="1.42"/>
<rect x="846.83" y="401.95" width="7.64" height="3.7" rx="1.1" fill="#fff" stroke="#231f20" stroke-width="1.42"/>
<rect x="846.6" y="393.05" width="8.1" height="8.9" rx="2.2" fill="#fff" stroke="#231f20" stroke-width="1.42"/>
<rect x="854.7" y="393.35" width="3.8" height="8.3" rx="0" fill="#fff" stroke="#231f20" stroke-width="1.5"/>
<line x1="846.55" y1="389.65" x2="846.55" y2="405.35" stroke="#231f20" stroke-width="1.95"/>
<line x1="815" y1="397.5" x2="860.9" y2="397.5" stroke="#231f20" stroke-width="0.8"/>
<rect x="834" y="211" width="5.5" height="170" fill="#e0dfdf"/>
<line x1="834" y1="166" x2="834" y2="371.8" stroke="#231f20" stroke-width="1.35"/>
<line x1="839.5" y1="166" x2="839.5" y2="371.8" stroke="#231f20" stroke-width="1.35"/>
<line x1="836.8" y1="212" x2="836.8" y2="380" stroke="#3a3637" stroke-width="0.8" stroke-dasharray="1.4 0.5"/>
<line x1="836.8" y1="380" x2="836.8" y2="430" stroke="#231f20" stroke-width="0.92"/>
<path d="M739.6 203.7 L747.3 203.7 L747.3 209.5 L748.7 209.5 L748.7 219.3 L745.8 219.3 L745.8 217.7 L742.8 217.7 L742.8 219.3 L739.6 219.3" fill="none" stroke="#231f20" stroke-width="1.27" stroke-linejoin="round"/>
<path d="M739.6 203.7 L739.6 219.3" fill="none" stroke="#231f20" stroke-width="1.27" stroke-linejoin="round" stroke-dasharray="1.5 0.8"/>
<path d="M934 203.7 L926.3 203.7 L926.3 209.5 L924.9 209.5 L924.9 219.3 L927.8 219.3 L927.8 217.7 L930.8 217.7 L930.8 219.3 L934 219.3" fill="none" stroke="#231f20" stroke-width="1.27" stroke-linejoin="round"/>
<path d="M934 203.7 L934 219.3" fill="none" stroke="#231f20" stroke-width="1.27" stroke-linejoin="round" stroke-dasharray="1.5 0.8"/>
<line x1="739.6" y1="166" x2="739.6" y2="200.8" stroke="#231f20" stroke-width="1.35"/>
<line x1="934" y1="165.7" x2="934" y2="200.8" stroke="#231f20" stroke-width="1.35"/>
<line x1="739.6" y1="169.9" x2="834" y2="169.9" stroke="#231f20" stroke-width="1.35"/>
<polygon points="739.6,169.9 749.9,167.45 749.9,172.35" fill="#231f20"/>
<polygon points="834,169.9 823.7,167.45 823.7,172.35" fill="#231f20"/>
<line x1="839.5" y1="169.9" x2="934" y2="169.9" stroke="#231f20" stroke-width="1.35"/>
<polygon points="839.5,169.9 849.8,167.45 849.8,172.35" fill="#231f20"/>
<polygon points="934,169.9 923.7,167.45 923.7,172.35" fill="#231f20"/>
<text x="788.3" y="167.6" font-size="10.2" font-weight="bold" text-anchor="middle" stroke="#231f20" stroke-width="0.32">J</text>
<text x="888" y="167.6" font-size="10.2" font-weight="bold" text-anchor="middle" stroke="#231f20" stroke-width="0.32">J</text>
<line x1="792.3" y1="164.5" x2="807.8" y2="153" stroke="#231f20" stroke-width="1.35"/>
<line x1="866.8" y1="153.8" x2="882.2" y2="165.5" stroke="#231f20" stroke-width="1.35"/>
<line x1="847.2" y1="186.1" x2="995.9" y2="186.1" stroke="#231f20" stroke-width="1.35"/>
<line x1="854.8" y1="405.8" x2="995.9" y2="405.8" stroke="#231f20" stroke-width="1.35"/>
<line x1="936.8" y1="203.7" x2="976.4" y2="203.7" stroke="#231f20" stroke-width="1.35"/>
<line x1="913.5" y1="388.3" x2="976.4" y2="388.3" stroke="#231f20" stroke-width="1.35"/>
<line x1="923" y1="220.2" x2="959.8" y2="220.2" stroke="#231f20" stroke-width="1.35"/>
<line x1="923" y1="371.8" x2="959.8" y2="371.8" stroke="#231f20" stroke-width="1.35"/>
<line x1="992.1" y1="186.1" x2="992.1" y2="405.8" stroke="#231f20" stroke-width="1.35"/>
<polygon points="992.1,186.1 989.6,197.1 994.6,197.1" fill="#231f20"/>
<polygon points="992.1,405.8 989.6,394.8 994.6,394.8" fill="#231f20"/>
<line x1="973.3" y1="203.7" x2="973.3" y2="388.3" stroke="#231f20" stroke-width="1.35"/>
<polygon points="973.3,203.7 970.8,214.7 975.8,214.7" fill="#231f20"/>
<polygon points="973.3,388.3 970.8,377.3 975.8,377.3" fill="#231f20"/>
<line x1="956.7" y1="220.2" x2="956.7" y2="371.8" stroke="#231f20" stroke-width="1.35"/>
<polygon points="956.7,220.2 954.2,231.2 959.2,231.2" fill="#231f20"/>
<polygon points="956.7,371.8 954.2,360.8 959.2,360.8" fill="#231f20"/>
<text x="951.2" y="298.9" font-size="9.9" font-weight="bold" text-anchor="middle" stroke="#231f20" stroke-width="0.1">G</text>
<text x="968.5" y="298.9" font-size="9.9" font-weight="bold" text-anchor="middle" stroke="#231f20" stroke-width="0.1">H</text>
<text x="986.8" y="298.9" font-size="9.9" font-weight="bold" text-anchor="middle" stroke="#231f20" stroke-width="0.1">A</text>
<line x1="750.6" y1="283.2" x2="834" y2="283.2" stroke="#231f20" stroke-width="1.35"/>
<polygon points="750.6,283.2 760.9,280.75 760.9,285.65" fill="#231f20"/>
<polygon points="834,283.2 823.7,280.75 823.7,285.65" fill="#231f20"/>
<line x1="839.5" y1="283.2" x2="923" y2="283.2" stroke="#231f20" stroke-width="1.35"/>
<polygon points="839.5,283.2 849.8,280.75 849.8,285.65" fill="#231f20"/>
<polygon points="923,283.2 912.7,280.75 912.7,285.65" fill="#231f20"/>
<text x="794" y="281.5" font-size="10.3" font-weight="normal" text-anchor="middle" stroke="#231f20" stroke-width="0.4">E</text>
<text x="883" y="281.5" font-size="10.3" font-weight="normal" text-anchor="middle" stroke="#231f20" stroke-width="0.4">E</text>
<line x1="750.6" y1="295.9" x2="822" y2="295.9" stroke="#3a3637" stroke-width="1.2" stroke-dasharray="1.4 0.5"/>
<line x1="822" y1="295.9" x2="928.9" y2="295.9" stroke="#231f20" stroke-width="1.5"/>
<line x1="816" y1="313.3" x2="834" y2="313.3" stroke="#231f20" stroke-width="1.35"/>
<polygon points="833.8,313.3 824.8,311.5 824.8,315.1" fill="#231f20"/>
<line x1="839.5" y1="313.3" x2="867.2" y2="313.3" stroke="#231f20" stroke-width="1.35"/>
<polygon points="839.7,313.3 848.7,311.5 848.7,315.1" fill="#231f20"/>
<text x="863.5" y="310.6" font-size="10.3" font-weight="normal" text-anchor="middle" stroke="#231f20" stroke-width="0.4">F</text>
<line x1="827.3" y1="408.8" x2="827.3" y2="430" stroke="#231f20" stroke-width="1.35"/>
<line x1="846" y1="408.8" x2="846" y2="430" stroke="#231f20" stroke-width="1.35"/>
<line x1="827.3" y1="427" x2="846" y2="427" stroke="#231f20" stroke-width="0.6" stroke-dasharray="2.2 0.5"/>
<polygon points="827.3,427 830.3,425.9 830.3,428.1" fill="#231f20"/>
<polygon points="836.8,427 833.8,425.9 833.8,428.1" fill="#231f20"/>
<polygon points="836.8,427 839.8,425.9 839.8,428.1" fill="#231f20"/>
<polygon points="846,427 843,425.9 843,428.1" fill="#231f20"/>
<text x="831.5" y="440" font-size="10.5" font-weight="bold" text-anchor="middle" stroke="#231f20" stroke-width="0.32">D</text>
<text x="842.8" y="440" font-size="10.5" font-weight="bold" text-anchor="middle" stroke="#231f20" stroke-width="0.32">D</text>
<line x1="750.6" y1="371.8" x2="750.6" y2="447.6" stroke="#231f20" stroke-width="1.35"/>
<line x1="923" y1="371.8" x2="923" y2="447.6" stroke="#231f20" stroke-width="1.35"/>
<line x1="750.6" y1="443.8" x2="923" y2="443.8" stroke="#231f20" stroke-width="1.35"/>
<polygon points="750.6,443.8 760.9,441.35 760.9,446.25" fill="#231f20"/>
<polygon points="923,443.8 912.7,441.35 912.7,446.25" fill="#231f20"/>
<text x="837.2" y="453.8" font-size="10.5" font-weight="bold" text-anchor="middle" stroke="#231f20" stroke-width="0.32">B</text>
</svg>
</body></html>
